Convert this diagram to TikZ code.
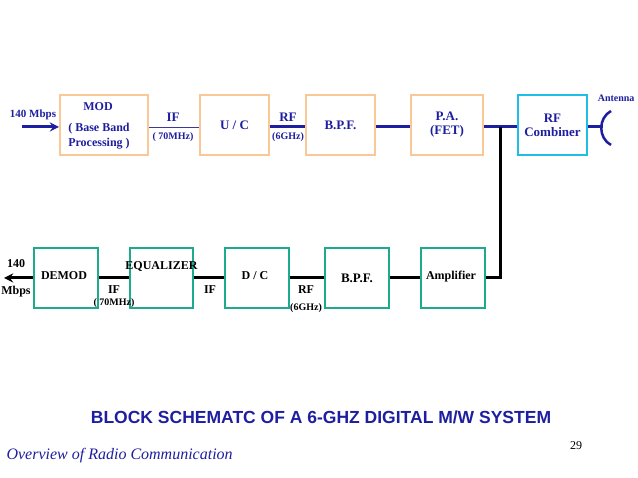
\documentclass[tikz,border=0pt]{standalone}
\usepackage{fontspec}
\setmainfont{Liberation Serif}
\newfontfamily\titlefont{Liberation Sans}
\usetikzlibrary{shapes}
\definecolor{txblue}{RGB}{30,30,160}
\definecolor{boxorange}{RGB}{250,200,150}
\definecolor{boxcyan}{RGB}{30,190,230}
\definecolor{boxteal}{RGB}{30,170,140}
\tikzset{
  txbox/.style={rectangle,draw=boxorange,line width=2pt,minimum width=#1pt,minimum height=60pt,inner sep=0pt,text=txblue,font=\bfseries\fontsize{13}{14}\selectfont,align=center},
  rxbox/.style={rectangle,draw=boxteal,line width=2pt,minimum width=#1pt,minimum height=60pt,inner sep=0pt,font=\bfseries\fontsize{13}{14}\selectfont,align=center},
  lbl/.style={font=\bfseries\fontsize{11}{12}\selectfont},
  blbl/.style={lbl,text=txblue},
  txline/.style={draw=txblue,line width=3pt},
  rxline/.style={draw=black,line width=3pt}
}
\begin{document}
\begin{tikzpicture}[x=1pt,y=-1pt]
	\useasboundingbox (0,0) rectangle (638,478);
	
		\node[txbox=88] (mod) at (104,125) {};
		\node[txbox=69] (uc) at (234.5,125) {U / C};
		\node[txbox=69] (tbpf) at (340.5,125) {B.P.F.};
		\node[txbox=72] (pa) at (447,125) {P.A.\\(FET)};
		\node[txbox=69,draw=boxcyan] (comb) at (552.5,125) {RF\\Combiner};
		\node[blbl,font=\bfseries\fontsize{12}{13}\selectfont] at (98,107) {MOD};
		\node[blbl,align=center,font=\bfseries\fontsize{12}{15}\selectfont] at (99,136) {( Base Band\\Processing )};
		
		\node[rxbox=64] (demod) at (66,278) {};
		\node[rxbox=63] (eq) at (161.5,278) {};
		\node[rxbox=64] (dc) at (257,278) {};
		\node[rxbox=64] (rbpf) at (357,278) {B.P.F.};
		\node[rxbox=64] (amp) at (453,278) {};
		\node[lbl,font=\bfseries\fontsize{12}{13}\selectfont] at (64,276) {DEMOD};
		\node[lbl,font=\bfseries\fontsize{12}{13}\selectfont] at (161.5,267) {EQUALIZER};
		\node[lbl,font=\bfseries\fontsize{12}{13}\selectfont] at (255,276) {D / C};
		\node[lbl,font=\bfseries\fontsize{12}{13}\selectfont] at (451,277) {Amplifier};
		
		\coordinate (in) at (22,127);
		\coordinate (out) at (4,278);
		\coordinate (jn) at (500,127);
		\coordinate (ant) at (603,127);
		
		\draw[txline,->,>=stealth] (in) -- (mod.west |- in);
		\node[blbl] at (33,115) {140 Mbps};
		\draw[draw=txblue!70!gray,line width=0.8pt] (mod.east |- in) -- (uc.west |- in);
		\node[blbl,font=\bfseries\fontsize{13}{14}\selectfont] at (173,117) {IF};
		\node[blbl,font=\bfseries\fontsize{10}{11}\selectfont] at (173,137) {( 70MHz)};
		\draw[txline] (uc.east |- in) -- (tbpf.west |- in);
		\node[blbl,font=\bfseries\fontsize{13}{14}\selectfont] at (288,117) {RF};
		\node[blbl,font=\bfseries\fontsize{10}{11}\selectfont] at (288,137) {(6GHz)};
		\draw[txline] (tbpf.east |- in) -- (pa.west |- in);
		\draw[txline] (pa.east |- in) -- (comb.west |- in);
		\draw[txline] (comb.east |- in) -- (ant);
		\draw[txline,line width=2.5pt] (611,111) .. controls (598,118) and (598,138) .. (611,145);
		\node[blbl,font=\bfseries\fontsize{10}{11}\selectfont,anchor=east] at (638,98) {Antenna};
		
		\draw[rxline] (jn) -- (jn |- amp) -- (amp.east);
		\draw[rxline] (amp.west) -- (rbpf.east);
		\draw[rxline] (rbpf.west) -- (dc.east);
		\node[lbl,font=\bfseries\fontsize{12}{13}\selectfont] at (306,290) {RF};
		\node[lbl,font=\bfseries\fontsize{10}{11}\selectfont] at (306,308) {(6GHz)};
		\draw[rxline] (dc.west) -- (eq.east);
		\node[lbl,font=\bfseries\fontsize{12}{13}\selectfont] at (210,290) {IF};
		\draw[rxline] (eq.west) -- (demod.east);
		\node[lbl,font=\bfseries\fontsize{12}{13}\selectfont] at (114,290) {IF};
		\node[lbl,font=\bfseries\fontsize{10}{11}\selectfont] at (114,303) {( 70MHz)};
		\draw[rxline,->,>=stealth] (demod.west) -- (out);
		\node[lbl,font=\bfseries\fontsize{12}{13}\selectfont] at (16,264) {140};
		\node[lbl,font=\bfseries\fontsize{12}{13}\selectfont] at (16,292) {Mbps};
		
		\node[text=txblue,font=\titlefont\bfseries\fontsize{17.5}{20}\selectfont] at (321,417) {BLOCK SCHEMATC OF A 6-GHZ DIGITAL M/W SYSTEM};
		\node[font=\fontsize{12}{14}\selectfont] at (576,446) {29};
		\node[text=txblue,anchor=west,font=\itshape\fontsize{16}{18}\selectfont] at (3,456) {Overview of Radio Communication};
		
	\end{tikzpicture}
\end{document}
